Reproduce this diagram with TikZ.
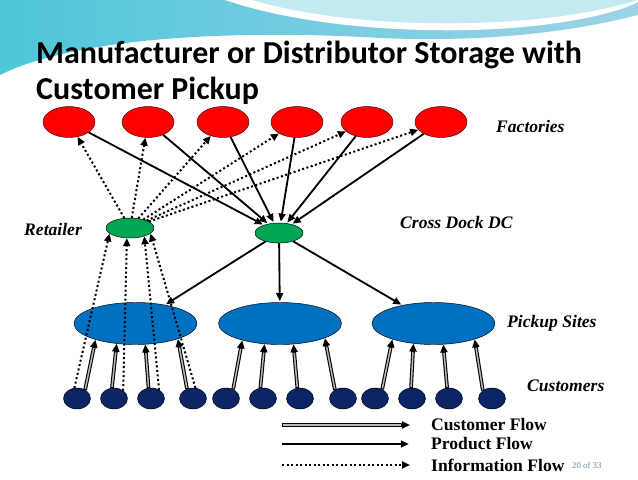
\documentclass[tikz,border=0pt]{standalone}
\usepackage{fontspec}
\setmainfont{Liberation Serif}
\newfontfamily\titlefont{Carlito}
\usepackage{tikz}
\usetikzlibrary{arrows.meta,shapes.geometric}
\definecolor{factred}{HTML}{FF0000}
\definecolor{dcgreen}{HTML}{00A651}
\definecolor{siteblue}{HTML}{0070C0}
\definecolor{custnavy}{HTML}{0B2466}
\definecolor{bandcyan}{HTML}{4EC6DA}
\definecolor{bandblue}{HTML}{9ED3E6}
\definecolor{paleblue}{HTML}{C3E9F1}
\definecolor{pagegray}{HTML}{5E8C9A}

\begin{document}
\begin{tikzpicture}[x=0.3mm, y=-0.3mm, >={Triangle[length=2.4mm,width=2.1mm]},
  factory/.style={ellipse, draw=black!70!red, fill=factred, inner sep=0pt, minimum width=15.6mm, minimum height=9.3mm},
  hub/.style={ellipse, draw=black, fill=dcgreen, inner sep=0pt, minimum width=14.4mm, minimum height=6mm},
  site/.style={ellipse, draw=black, fill=siteblue, inner sep=0pt, minimum width=36.9mm, minimum height=12.6mm},
  cust/.style={ellipse, draw=black, fill=custnavy, inner sep=0pt, minimum width=8.1mm, minimum height=6.3mm},
  lbl/.style={inner sep=0pt, anchor=west, font=\fontsize{15}{18}\selectfont\bfseries\itshape},
  legend/.style={inner sep=0pt, anchor=west, font=\fontsize{15}{18}\selectfont\bfseries},
  title/.style={inner sep=0pt, anchor=base west, font=\titlefont\fontsize{27.3}{32}\selectfont\bfseries},
  prod/.style={->, line width=0.55mm, shorten >=1pt},
  info/.style={->, line width=0.6mm, dash pattern=on 0.6mm off 0.75mm},
  cflow/.style={->, line width=1.1mm, postaction={draw=gray!55, line width=0.45mm, -, shorten >=2.6mm, shorten <=0.3mm}}]
\useasboundingbox (0,0) rectangle (638,479);
\shade[left color=bandcyan, right color=bandblue] (0,0) -- (638,0) -- (638,15) .. controls (560,35) and (470,42) .. (380,38) .. controls (250,30) and (80,35) .. (0,75) -- cycle;
\fill[white] (225,0) .. controls (290,22) and (380,32) .. (470,30) .. controls (560,28) and (620,12) .. (638,2) -- (638,0) -- cycle;
\fill[paleblue] (252,0) .. controls (310,17) and (390,25) .. (470,23) .. controls (560,21) and (615,7) .. (638,0) -- cycle;
\node[title] (t1) at (36,63) {Manufacturer or Distributor Storage with};
\node[title] (t2) at (36,99) {Customer Pickup};
\node[factory] (F1) at (69,122) {};
\node[factory] (F2) at (148,122) {};
\node[factory] (F3) at (223,122) {};
\node[factory] (F4) at (297,122) {};
\node[factory] (F5) at (367,122) {};
\node[factory] (F6) at (441,122) {};
\node[hub] (ret) at (130,228) {};
\node[hub] (DC) at (279,233) {};
\node[site] (P1) at (135.5,323.5) {};
\node[site] (P2) at (280,323.5) {};
\node[site] (P3) at (433.5,323.5) {};
\node[cust] (c1) at (77,398.5) {};
\node[cust] (c2) at (114,398.5) {};
\node[cust] (c3) at (151,398.5) {};
\node[cust] (c4) at (193,398.5) {};
\node[cust] (c5) at (226,398.5) {};
\node[cust] (c6) at (263,398.5) {};
\node[cust] (c7) at (300,398.5) {};
\node[cust] (c8) at (343,398.5) {};
\node[cust] (c9) at (375,398.5) {};
\node[cust] (c10) at (412,398.5) {};
\node[cust] (c11) at (449,398.5) {};
\node[cust] (c12) at (492,398.5) {};
\node[lbl] (lfact) at (496,126) {Factories};
\node[lbl] (lret) at (24,229) {Retailer};
\node[lbl] (ldc) at (400,222) {Cross Dock DC};
\node[lbl] (lsite) at (507,323) {Pickup Sites};
\node[lbl] (lcust) at (527,386) {Customers};
\path (F1) edge[prod] (DC);
\path (F2) edge[prod] (DC);
\path (F3) edge[prod] (DC);
\path (F4) edge[prod] (DC);
\path (F5) edge[prod] (DC);
\path (F6) edge[prod] (DC);
\path (DC) edge[prod] (P1);
\path (DC) edge[prod] (P2);
\path (DC) edge[prod] (P3);
\path (ret) edge[info] (F1);
\path (ret) edge[info] (F2);
\path (ret) edge[info] (F3);
\path (ret) edge[info] (F4);
\path (ret) edge[info] (F5);
\path (ret) edge[info] (F6);
\path (c1.104) edge[info] (ret.195);
\path (c2.41) edge[info] (ret.253);
\path (c3.47) edge[info] (ret.330);
\path (c4.77) edge[info] (ret.345);
\path (c1.47) edge[cflow] (P1.202);
\path (c2.101) edge[cflow] (P1.227);
\path (c3.103) edge[cflow] (P1.295);
\path (c4.122) edge[cflow] (P1.340);
\path (c5.52) edge[cflow] (P2.204);
\path (c6.104) edge[cflow] (P2.233);
\path (c7.104) edge[cflow] (P2.303);
\path (c8.133) edge[cflow] (P2.342);
\path (c9.52) edge[cflow] (P3.201);
\path (c10.95) edge[cflow] (P3.225);
\path (c11.100) edge[cflow] (P3.295);
\path (c12.139) edge[cflow] (P3.339);
\coordinate (lc1a) at (282,425);
\coordinate (lc1b) at (410,425);
\coordinate (lc2a) at (282,444);
\coordinate (lc2b) at (410,444);
\coordinate (lc3a) at (282,465);
\coordinate (lc3b) at (410,465);
\path (lc1a) edge[cflow] (lc1b);
\path (lc2a) edge[prod] (lc2b);
\path (lc3a) edge[info] (lc3b);
\node[legend] (lgc) at (431,425) {Customer Flow};
\node[legend] (lgp) at (431,444) {Product Flow};
\node[legend] (lgi) at (431,465) {Information Flow};
\node[inner sep=0pt, anchor=west, text=pagegray, font=\fontsize{7.5}{9}\selectfont] (pg) at (572,465) {20 of 33};
\end{tikzpicture}
\end{document}
